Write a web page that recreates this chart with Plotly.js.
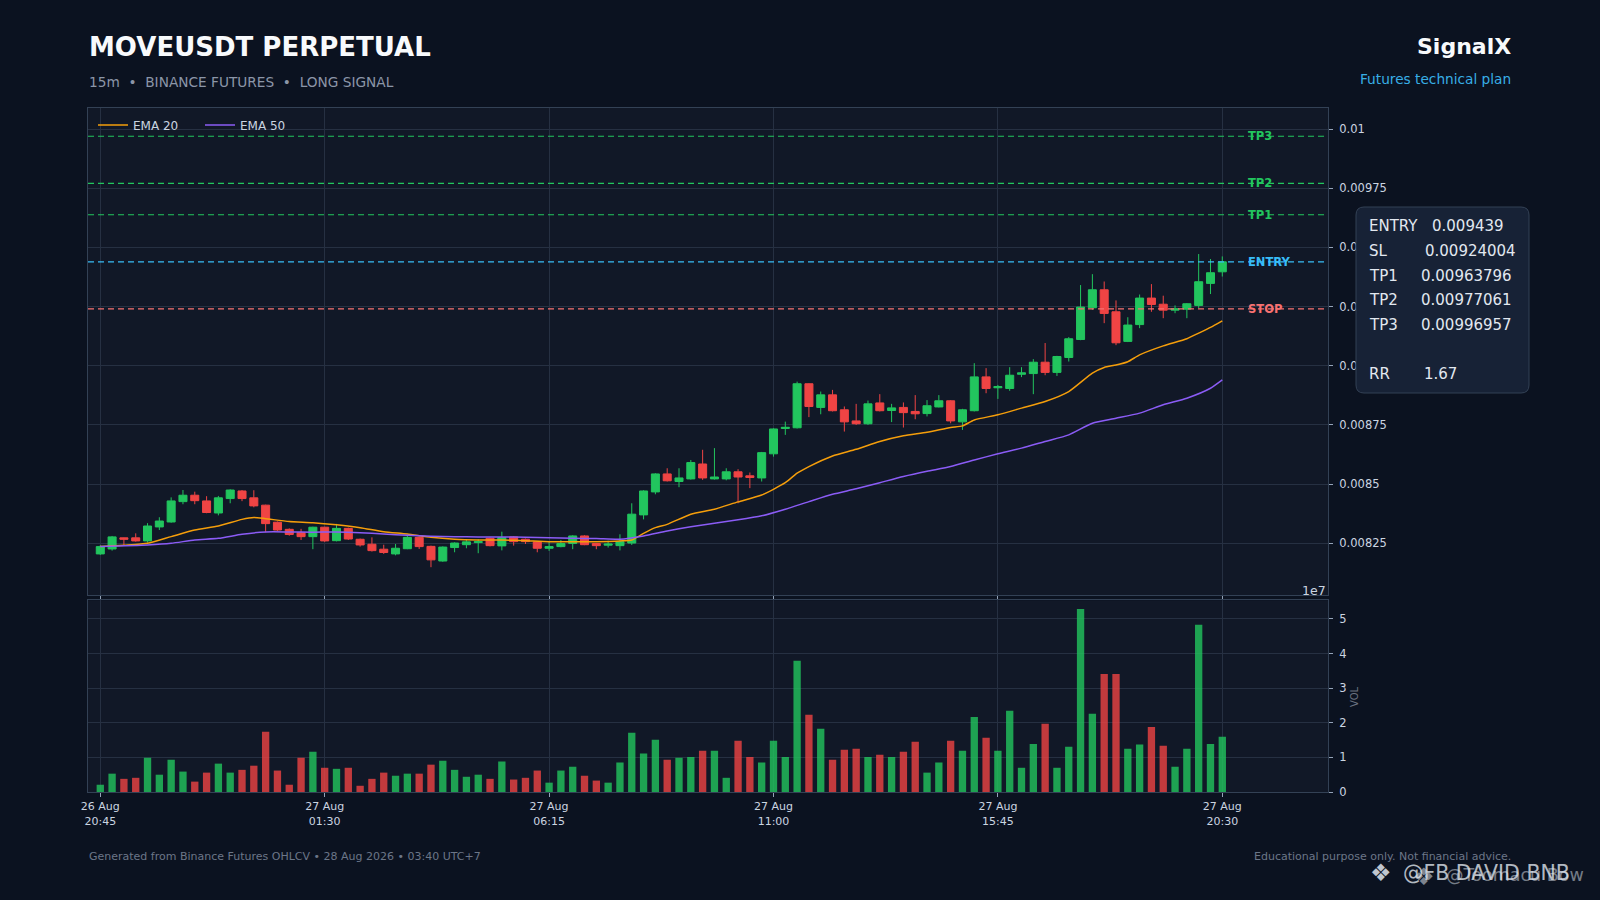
<!DOCTYPE html>
<html>
<head>
<meta charset="utf-8">
<script src="https://cdn.plot.ly/plotly-3.0.1.min.js"></script>
<style>
html,body{margin:0;padding:0;background:#0b1220;}
#chart{width:1600px;height:900px;}
</style>
</head>
<body>
<div id="chart"></div>
<script>
// ---------------- DATA ----------------
const startTime = '2026-08-26T20:45:00Z';
const intervalMin = 15;

const openP = [
0.008205,0.008226,0.008273,0.008273,0.008260,0.008319,0.008340,0.008426,0.008453,0.008429,
0.008378,0.008439,0.008471,0.008442,0.008411,0.008339,0.008309,0.008295,0.008278,0.008318,
0.008261,0.008313,0.008267,0.008246,0.008225,0.008205,0.008227,0.008275,0.008237,0.008175,
0.008232,0.008244,0.008253,0.008271,0.008239,0.008277,0.008267,0.008256,0.008229,0.008236,
0.008249,0.008281,0.008249,0.008242,0.008240,0.008251,0.008370,0.008467,0.008543,0.008511,
0.008522,0.008585,0.008522,0.008522,0.008552,0.008535,0.008526,0.008628,0.008735,0.008738,
0.008924,0.008824,0.008877,0.008814,0.008767,0.008755,0.008843,0.008811,0.008824,0.008807,
0.008798,0.008826,0.008852,0.008763,0.008810,0.008953,0.008907,0.008904,0.008964,0.008967,
0.009015,0.008972,0.009035,0.009111,0.009245,0.009321,0.009228,0.009103,0.009174,0.009286,
0.009260,0.009235,0.009239,0.009255,0.009348,0.009397];
const highP = [
0.008242,0.008281,0.008274,0.008292,0.008335,0.008360,0.008444,0.008475,0.008468,0.008449,
0.008450,0.008478,0.008475,0.008474,0.008413,0.008342,0.008313,0.008311,0.008320,0.008320,
0.008332,0.008316,0.008270,0.008275,0.008244,0.008247,0.008285,0.008278,0.008240,0.008237,
0.008254,0.008267,0.008267,0.008274,0.008299,0.008280,0.008270,0.008258,0.008256,0.008264,
0.008284,0.008284,0.008251,0.008261,0.008288,0.008419,0.008474,0.008546,0.008567,0.008567,
0.008602,0.008645,0.008652,0.008567,0.008563,0.008549,0.008636,0.008736,0.008764,0.008933,
0.008926,0.008891,0.008898,0.008828,0.008839,0.008853,0.008880,0.008839,0.008845,0.008876,
0.008855,0.008876,0.008855,0.008818,0.009011,0.008990,0.008919,0.008994,0.008994,0.009028,
0.009096,0.009042,0.009121,0.009341,0.009387,0.009356,0.009276,0.009205,0.009301,0.009345,
0.009296,0.009255,0.009265,0.009472,0.009451,0.009462];
const lowP = [
0.008201,0.008219,0.008243,0.008257,0.008253,0.008306,0.008337,0.008415,0.008415,0.008377,
0.008368,0.008419,0.008428,0.008402,0.008297,0.008302,0.008282,0.008264,0.008225,0.008256,
0.008258,0.008264,0.008236,0.008215,0.008205,0.008199,0.008225,0.008226,0.008149,0.008172,
0.008212,0.008229,0.008208,0.008237,0.008220,0.008240,0.008247,0.008212,0.008218,0.008233,
0.008225,0.008242,0.008225,0.008232,0.008220,0.008243,0.008351,0.008457,0.008511,0.008487,
0.008519,0.008518,0.008519,0.008516,0.008419,0.008483,0.008511,0.008616,0.008708,0.008735,
0.008783,0.008795,0.008807,0.008722,0.008750,0.008750,0.008807,0.008762,0.008739,0.008774,
0.008786,0.008824,0.008757,0.008729,0.008807,0.008884,0.008860,0.008894,0.008952,0.008880,
0.008960,0.008957,0.009018,0.009108,0.009236,0.009180,0.009087,0.009100,0.009159,0.009228,
0.009201,0.009222,0.009201,0.009244,0.009303,0.009377];
const closeP = [
0.008236,0.008277,0.008267,0.008260,0.008323,0.008344,0.008429,0.008453,0.008430,0.008380,
0.008442,0.008475,0.008439,0.008408,0.008333,0.008306,0.008287,0.008278,0.008318,0.008260,
0.008313,0.008268,0.008243,0.008219,0.008211,0.008229,0.008275,0.008236,0.008180,0.008234,
0.008251,0.008256,0.008257,0.008240,0.008274,0.008257,0.008257,0.008229,0.008236,0.008249,
0.008281,0.008244,0.008240,0.008247,0.008257,0.008373,0.008471,0.008543,0.008514,0.008526,
0.008591,0.008526,0.008530,0.008552,0.008530,0.008528,0.008633,0.008733,0.008740,0.008924,
0.008828,0.008877,0.008810,0.008763,0.008755,0.008839,0.008810,0.008822,0.008802,0.008797,
0.008831,0.008852,0.008767,0.008814,0.008953,0.008904,0.008912,0.008960,0.008970,0.009015,
0.008972,0.009039,0.009114,0.009248,0.009321,0.009221,0.009097,0.009172,0.009286,0.009259,
0.009235,0.009241,0.009262,0.009355,0.009393,0.009439];
// volume in units of 1e7
const volume = [
0.21,0.53,0.38,0.41,0.99,0.50,0.93,0.59,0.30,0.56,
0.82,0.56,0.64,0.76,1.74,0.62,0.21,0.99,1.16,0.70,
0.67,0.70,0.18,0.38,0.56,0.47,0.53,0.53,0.79,0.90,
0.64,0.44,0.50,0.38,0.88,0.36,0.41,0.62,0.27,0.62,
0.73,0.47,0.33,0.27,0.85,1.71,1.11,1.51,0.93,0.99,
1.01,1.19,1.19,0.41,1.48,1.01,0.85,1.48,1.01,3.79,
2.23,1.83,0.93,1.22,1.25,1.01,1.08,1.01,1.16,1.45,
0.56,0.85,1.48,1.19,2.17,1.57,1.19,2.35,0.70,1.39,
1.97,0.70,1.31,5.29,2.26,3.41,3.41,1.25,1.37,1.88,
1.34,0.73,1.25,4.83,1.39,1.60];

const ema20Idx = [0,2,4,6,8,10,12,13,14,16,18,20,22,24,26,28,30,32,34,36,38,40,42,44,45,46,47,48,50,52,54,56,58,59,60,62,64,66,68,70,72,73,74,76,78,80,82,84,85,86,87,88,90,92,93,94,95];
const ema20 = [0.008236,0.008242,0.008250,0.008278,0.008306,0.008323,0.008351,0.008359,0.008354,0.008342,0.008337,0.008328,0.008316,0.008299,0.008289,0.008275,0.008267,0.008264,0.008264,0.008261,0.008257,0.008257,0.008257,0.008260,0.008264,0.008292,0.008316,0.008330,0.008373,0.008394,0.008425,0.008454,0.008506,0.008546,0.008574,0.008619,0.008647,0.008680,0.008704,0.008719,0.008739,0.008746,0.008771,0.008793,0.008821,0.008849,0.008891,0.008969,0.008993,0.009003,0.009017,0.009046,0.009084,0.009114,0.009138,0.009162,0.009190];
const ema50Idx = [0,4,6,8,10,12,14,16,18,20,22,24,26,28,30,32,34,36,38,40,42,44,46,48,50,52,54,56,58,60,62,64,66,68,70,72,74,76,78,80,82,84,86,88,90,92,94,95];
const ema50 = [0.008236,0.008243,0.008250,0.008264,0.008271,0.008288,0.008298,0.008298,0.008297,0.008298,0.008295,0.008289,0.008284,0.008280,0.008278,0.008277,0.008277,0.008275,0.008273,0.008271,0.008270,0.008267,0.008281,0.008302,0.008320,0.008335,0.008349,0.008366,0.008394,0.008426,0.008457,0.008480,0.008506,0.008532,0.008554,0.008574,0.008602,0.008628,0.008652,0.008680,0.008708,0.008757,0.008778,0.008800,0.008835,0.008863,0.008905,0.008940];

const levelNames  = ['TP3','TP2','TP1','ENTRY','STOP'];
const levelValues = [0.00996957,0.00977061,0.00963796,0.009439,0.00924004];

const priceTicks    = [0.00825,0.0085,0.00875,0.009,0.00925,0.0095,0.00975,0.01];
const priceTickText = ['0.00825','0.0085','0.00875','0.009','0.00925','0.0095','0.00975','0.01'];
const volTicks      = [0,1,2,3,4,5];
const volTickText   = ['0','1','2','3','4','5'];
const timeTickIdx   = [0,19,38,57,76,95];
const timeTickText  = ['26 Aug<br>20:45','27 Aug<br>01:30','27 Aug<br>06:15','27 Aug<br>11:00','27 Aug<br>15:45','27 Aug<br>20:30'];

const planLabels = ['ENTRY','SL','TP1','TP2','TP3','RR'];
const planValues = ['0.009439','0.00924004','0.00963796','0.00977061','0.00996957','1.67'];

// ---------------- HELPERS ----------------
const FONT = 'DejaVu Sans, Verdana, sans-serif';
const W = 1600, H = 900, ML = 88, MR = 272, MT = 108, MB = 108;
const PW = W - ML - MR, PH = H - MT - MB;
const px = x => (x - ML) / PW;
const py = y => (H - MB - y) / PH;
const t0 = Date.parse(startTime);
const idxToTime = i => new Date(t0 + i * intervalMin * 60000).toISOString().slice(0, 19).replace('T', ' ');
const times = closeP.map((_, i) => idxToTime(i));
const tickTimes = timeTickIdx.map(idxToTime);

const GREEN = '#22c55e', RED = '#ef4444';
const volColors = closeP.map((c, i) => c >= openP[i] ? 'rgba(34,197,94,0.80)' : 'rgba(239,68,68,0.80)');

// ---------------- TRACES ----------------
const traces = [
  {
    type: 'candlestick', x: times, open: openP, high: highP, low: lowP, close: closeP,
    xaxis: 'x', yaxis: 'y', showlegend: false, hoverinfo: 'skip',
    increasing: {line: {color: GREEN, width: 1}, fillcolor: GREEN},
    decreasing: {line: {color: RED, width: 1}, fillcolor: RED},
    whiskerwidth: 0
  },
  {
    type: 'scatter', mode: 'lines', name: 'EMA 20',
    x: ema20Idx.map(idxToTime), y: ema20, xaxis: 'x', yaxis: 'y',
    line: {color: '#f59e0b', width: 1.5, shape: 'spline', smoothing: 0.6}, hoverinfo: 'skip'
  },
  {
    type: 'scatter', mode: 'lines', name: 'EMA 50',
    x: ema50Idx.map(idxToTime), y: ema50, xaxis: 'x', yaxis: 'y',
    line: {color: '#8b5cf6', width: 1.5, shape: 'spline', smoothing: 0.6}, hoverinfo: 'skip'
  },
  {
    type: 'bar', x: times, y: volume, xaxis: 'x2', yaxis: 'y2', showlegend: false,
    marker: {color: volColors, line: {width: 0}}, width: 0.62 * intervalMin * 60000, hoverinfo: 'skip'
  }
];

// ---------------- LAYOUT ----------------
const levelColor = n => n === 'ENTRY' ? '#38bdf8' : (n === 'STOP' ? '#f87171' : '#22c55e');
const shapes = levelValues.map((v, k) => ({
  type: 'line', xref: 'paper', yref: 'y', x0: 0, x1: 1, y0: v, y1: v,
  line: {color: levelColor(levelNames[k]), width: 1.2, dash: '6px,4px'}, layer: 'above'
}));

// rounded info box
(function () {
  const x0 = px(1356), x1 = px(1529), y0 = py(393), y1 = py(207);
  const rx = 8 / PW, ry = 8 / PH;
  shapes.push({
    type: 'path', xref: 'paper', yref: 'paper', layer: 'above',
    path: `M ${x0 + rx},${y1} L ${x1 - rx},${y1} Q ${x1},${y1} ${x1},${y1 - ry} L ${x1},${y0 + ry} Q ${x1},${y0} ${x1 - rx},${y0} L ${x0 + rx},${y0} Q ${x0},${y0} ${x0},${y0 + ry} L ${x0},${y1 - ry} Q ${x0},${y1} ${x0 + rx},${y1} Z`,
    fillcolor: '#172236', line: {color: '#334155', width: 1}
  });
})();

const ann = [];
const txt = (text, x, y, size, color, xanchor, extra) => ann.push(Object.assign({
  text, x: px(x), y: py(y), xref: 'paper', yref: 'paper', showarrow: false,
  xanchor: xanchor || 'left', yanchor: 'middle', font: {family: FONT, size, color}
}, extra || {}));

txt('<b>MOVEUSDT PERPETUAL</b>', 87, 46.5, 26, '#f8fafc');
txt('15m\u00a0\u00a0•\u00a0\u00a0BINANCE FUTURES\u00a0\u00a0•\u00a0\u00a0LONG SIGNAL', 87, 82, 13.7, '#8b96a8');
txt('<b>SignalX</b>', 1513, 47, 22, '#f8fafc', 'right');
txt('Futures technical plan', 1513, 78.5, 13.7, '#38aee6', 'right');
txt('Generated from Binance Futures OHLCV • 28 Aug 2026 • 03:40 UTC+7', 87, 856, 11, '#6b7688');
txt('Educational purpose only. Not financial advice.', 1513, 856, 11, '#6b7688', 'right');
txt('1e7', 1328, 590, 12.5, '#cbd5e1', 'right');
txt('VOL', 1354, 697, 10, '#6b7280', 'center', {textangle: -90});

// level labels
levelNames.forEach((n, k) => ann.push({
  text: '<b>' + n + '</b>', x: px(1246), y: levelValues[k], xref: 'paper', yref: 'y',
  showarrow: false, xanchor: 'left', yanchor: 'middle',
  font: {family: FONT, size: 11.5, color: levelColor(n)}
}));

// info box text
const rowY = [226, 251.3, 276.3, 300.3, 324.7, 374.3];
const valX = [1430, 1423.5, 1419, 1419, 1419, 1422];
planLabels.forEach((l, k) => {
  txt(l, 1366.5, rowY[k], 15, '#e2e8f0');
  txt(planValues[k], valX[k], rowY[k], 15, '#e2e8f0');
});

// watermark (two overlapping stamps, as in the reference)
txt('❖', 1381, 873, 24, 'rgba(226,232,240,0.85)', 'center');
txt('@FB DAVID BNB', 1401, 873, 20.5, 'rgba(226,232,240,0.80)');
txt('❖', 1424, 877, 24, 'rgba(226,232,240,0.55)', 'center');
txt('@Toomacu Bow', 1444, 875, 17.5, 'rgba(226,232,240,0.50)');

const gridC = '#263042', lineC = '#334155', tickC = '#cbd5e1';
const xRange = [idxToTime(-1.04), idxToTime(103.95)];
const layout = {
  width: W, height: H,
  margin: {l: ML, r: MR, t: MT, b: MB, pad: 0},
  paper_bgcolor: '#0b1220', plot_bgcolor: '#111827',
  font: {family: FONT, color: tickC, size: 11},
  showlegend: true,
  legend: {
    x: px(93), y: 1 - 2.5 / PH, xanchor: 'left', yanchor: 'top', orientation: 'h',
    bgcolor: 'rgba(0,0,0,0)', borderwidth: 0, font: {family: FONT, size: 12, color: '#cbd5e1'},
    entrywidth: 62, entrywidthmode: 'pixels'
  },
  boxgap: 0.15, boxgroupgap: 0.2, bargap: 0.38,
  xaxis: {
    type: 'date', domain: [0, 1], anchor: 'y', range: xRange,
    tickvals: tickTimes, ticktext: timeTickText, showticklabels: false,
    ticks: 'outside', ticklen: 4, tickcolor: '#94a3b8',
    showgrid: true, gridcolor: gridC, gridwidth: 1, zeroline: false,
    showline: true, mirror: true, linecolor: lineC, linewidth: 1,
    rangeslider: {visible: false}, fixedrange: true
  },
  xaxis2: {
    type: 'date', domain: [0, 1], anchor: 'y2', matches: 'x', range: xRange,
    tickvals: tickTimes, ticktext: timeTickText, showticklabels: true,
    tickfont: {family: FONT, size: 11, color: tickC},
    ticks: 'outside', ticklen: 4, tickcolor: '#94a3b8',
    showgrid: true, gridcolor: gridC, gridwidth: 1, zeroline: false,
    showline: true, mirror: true, linecolor: lineC, linewidth: 1, fixedrange: true
  },
  yaxis: {
    domain: [py(595), 1], anchor: 'x', side: 'right',
    range: [0.0080315, 0.010089],
    tickvals: priceTicks, ticktext: priceTickText,
    tickfont: {family: FONT, size: 11.5, color: tickC},
    ticks: 'outside', ticklen: 4, tickcolor: '#94a3b8', ticklabelstandoff: 4,
    showgrid: true, gridcolor: gridC, gridwidth: 1, zeroline: false,
    showline: true, mirror: true, linecolor: lineC, linewidth: 1, fixedrange: true
  },
  yaxis2: {
    domain: [0, py(600.3)], anchor: 'x2', side: 'right',
    range: [0, 5.54],
    tickvals: volTicks, ticktext: volTickText,
    tickfont: {family: FONT, size: 11.5, color: tickC},
    ticks: 'outside', ticklen: 4, tickcolor: '#94a3b8', ticklabelstandoff: 4,
    showgrid: true, gridcolor: gridC, gridwidth: 1, zeroline: false,
    showline: true, mirror: true, linecolor: lineC, linewidth: 1, fixedrange: true
  },
  shapes: shapes,
  annotations: ann,
  hovermode: false
};

Plotly.newPlot('chart', traces, layout, {displayModeBar: false, staticPlot: true});
</script>
</body>
</html>
